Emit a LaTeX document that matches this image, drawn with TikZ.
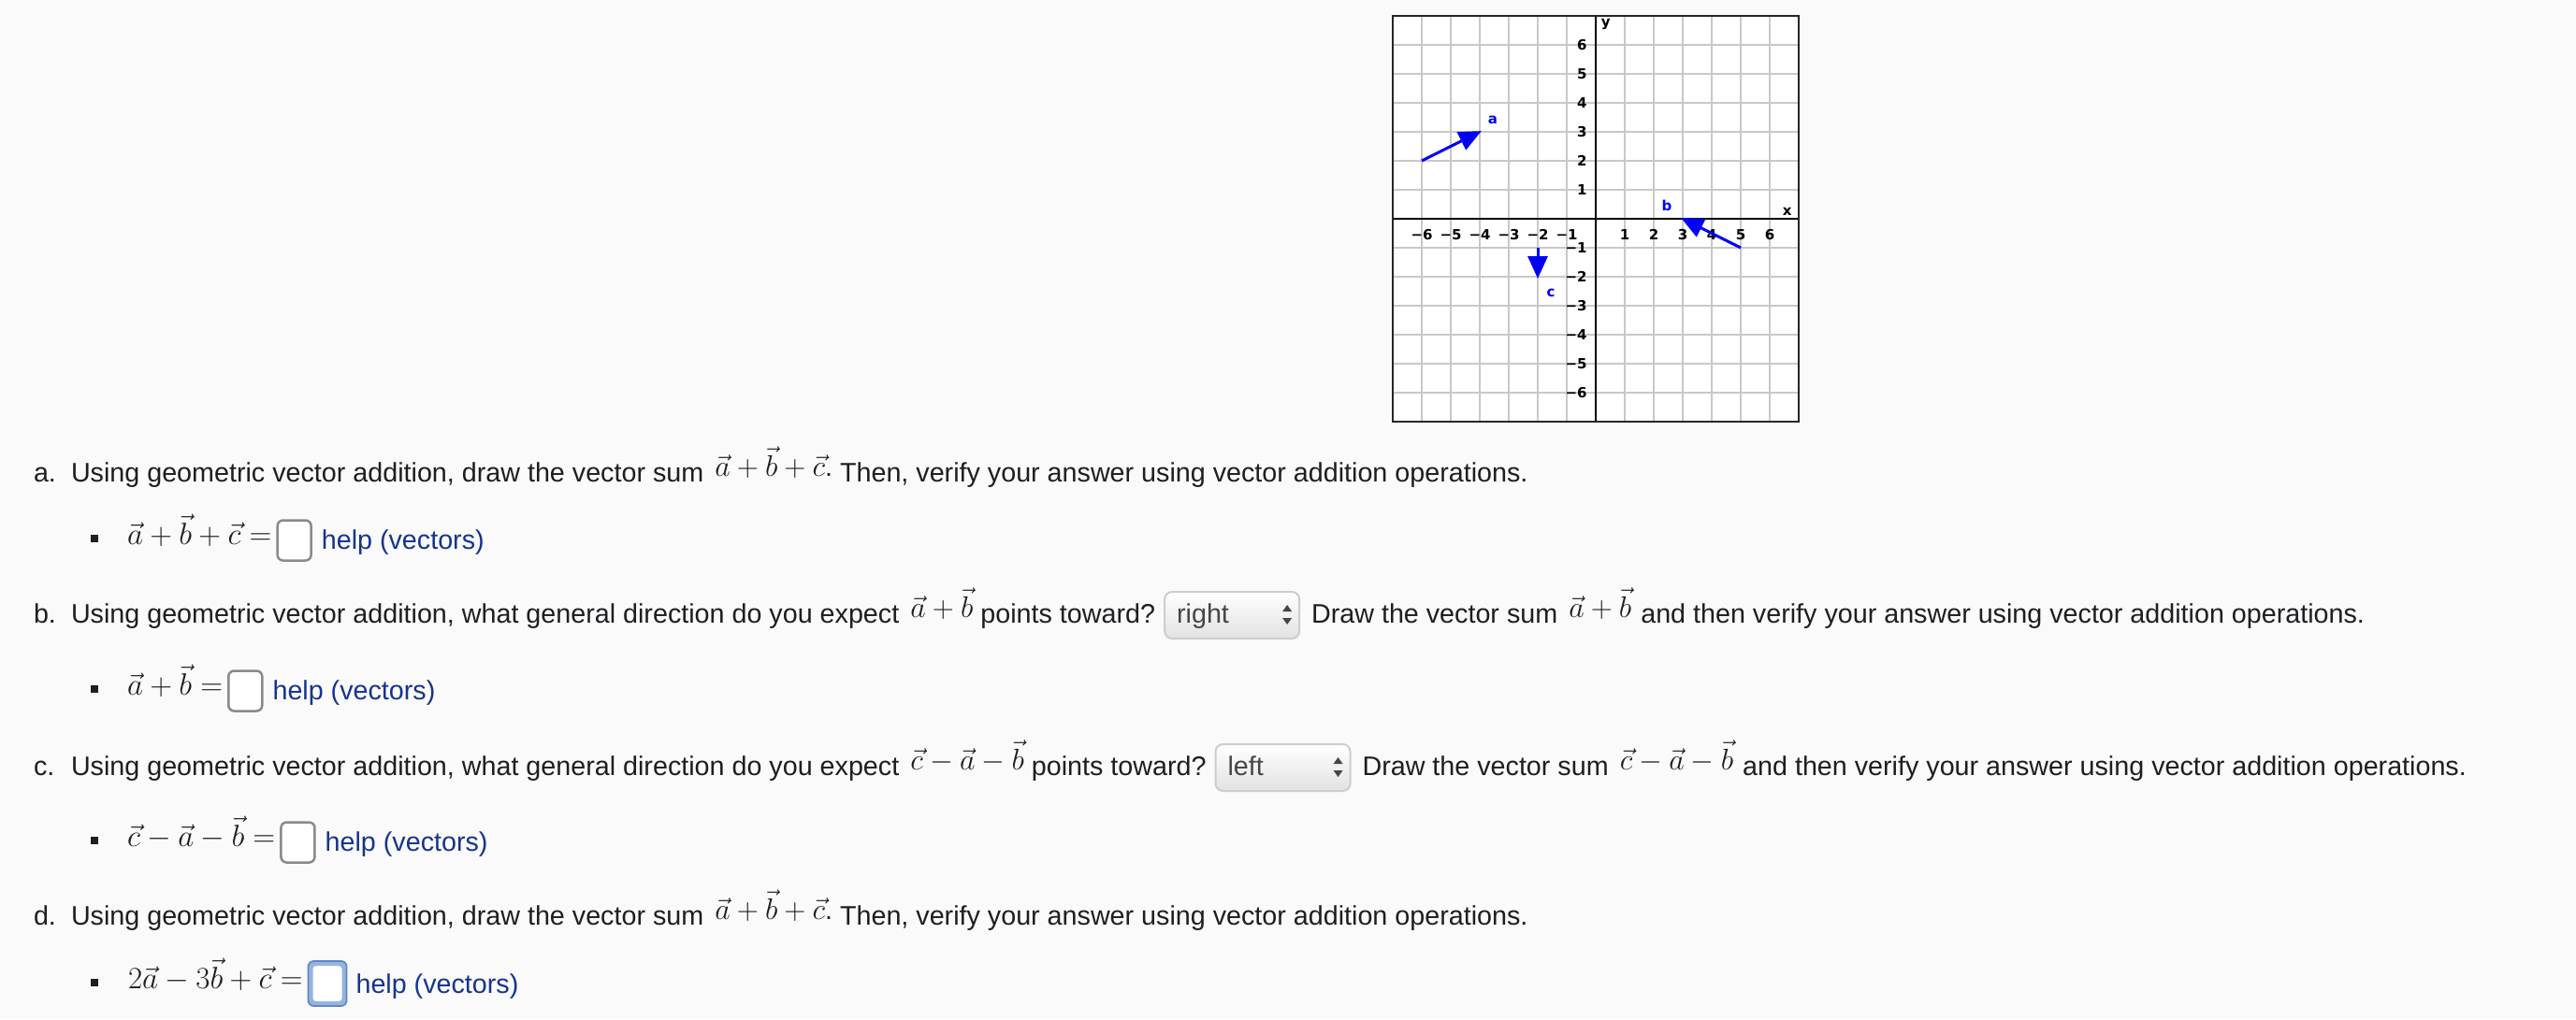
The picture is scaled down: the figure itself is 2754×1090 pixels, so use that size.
\RequirePackage{fix-cm}
\documentclass[tikz,border=0pt]{standalone}
\usepackage[no-math]{fontspec}
\setmainfont{Liberation Sans}
\newfontfamily\gfont{DejaVu Sans}
\usetikzlibrary{arrows.meta}
\definecolor{bgc}{RGB}{250,250,250}
\definecolor{txt}{RGB}{30,30,34}
\definecolor{helpc}{RGB}{22,52,140}
\definecolor{gridc}{RGB}{200,200,200}
\definecolor{vecc}{RGB}{0,0,245}
\definecolor{boxc}{RGB}{138,138,138}
\definecolor{ddline}{RGB}{205,205,205}
\definecolor{ddfill}{RGB}{226,226,226}
\definecolor{ddtxt}{RGB}{70,70,70}
\definecolor{glowout}{RGB}{150,180,222}
\definecolor{glowin}{RGB}{95,135,195}
\newcommand\mth[1]{{\fontsize{33}{38}\selectfont$#1$}}
\newcommand\mti[1]{{\fontsize{32}{38}\selectfont$#1$}}
\tikzset{
 tx/.style={anchor=base west, inner sep=0pt, outer sep=0pt, text=txt, font=\fontsize{28.7}{35}\selectfont},
 hp/.style={tx, text=helpc},
 ansbox/.style={draw=boxc, line width=2.5pt, fill=white, rounded corners=6pt, inner sep=0pt, minimum width=36pt, minimum height=43pt, anchor=west},
 bul/.style={fill=txt, inner sep=0pt, minimum size=8pt},
 dd/.style={draw=ddline, line width=2pt, rounded corners=8pt, top color=white, bottom color=ddfill, minimum width=144pt, minimum height=50pt, inner sep=0pt, anchor=west},
 ddarr/.style={fill=ddtxt},
 glab/.style={font=\gfont\bfseries\fontsize{15}{15}\selectfont, inner sep=0pt, text=black},
 vlab/.style={glab, text=vecc},
 vecline/.style={vecc, line width=3pt, -{Triangle[length=24pt,width=21pt]}},
 gl/.style={gridc, line width=1.5pt},
}
\begin{document}
\begin{tikzpicture}[x=1pt,y=-1pt]
\fill[bgc] (0,0) rectangle (2754,1090);
\useasboundingbox (0,0) rectangle (2754,1090);

% ---------- graph ----------
\begin{scope}[shift={(1706,234)}, x=31pt, y=31pt]
  \fill[white] (-7,-7) rectangle (7,7);
  \foreach \i in {-6,...,6} {
    \draw[gl] (\i,-7) -- (\i,7);
    \draw[gl] (-7,\i) -- (7,\i);
  }
  \draw[black, line width=1.5pt] (-7,0) -- (7,0);
  \draw[black, line width=1.5pt] (0,-7) -- (0,7);
  \draw[black!85, line width=2pt] (-7,-7) rectangle (7,7);
  \foreach \i in {1,...,6} {
    \node[glab] (xp\i) at (\i,-0.55) {\i};
    \node[glab] (xm\i) at (-\i,-0.55) {−\i};
    \node[glab, anchor=east] (yp\i) at (-0.3,\i) {\i};
    \node[glab, anchor=east] (ym\i) at (-0.3,-\i) {−\i};
  }
  \node[glab] (ylab) at (0.35,6.7) {y};
  \node[glab] (xlab) at (6.6,0.25) {x};
  \coordinate (a0) at (-6,2); \coordinate (a1) at (-4,3);
  \coordinate (b0) at (5,-1); \coordinate (b1) at (3,0);
  \coordinate (c0) at (-2,-1); \coordinate (c1) at (-2,-2);
  \draw[vecline, shorten >=-2pt] (a0) -- (a1);
  \draw[vecline, shorten >=-2pt] (b0) -- (b1);
  \draw[vecline, shorten >=-2pt] (c0) -- (c1);
  \node[vlab] (la) at (-3.55,3.4) {a};
  \node[vlab] (lb) at (2.45,0.45) {b};
  \node[vlab] (lc) at (-1.55,-2.55) {c};
\end{scope}

% ---------- part a ----------
\node[tx] (pa) at (36,515) {a.};
\node[tx] (ta1) at (76,515) {Using geometric vector addition, draw the vector sum};
\node[tx] (ta2) at ([xshift=12pt,yshift=6pt]ta1.base east) {\mti{\vec a+\vec b+\vec c}.};
\node[tx] (ta3) at ([xshift=0pt]ta2.base east |- ta1.base) {\ Then, verify your answer using vector addition operations.};
\node[bul] (bua) at (101,576) {};
\node[tx] (ma) at (136,582) {\mth{\vec a+\vec b+\vec c=}};
\node[ansbox] (boxa) at ([xshift=5pt,yshift=4pt]ma.base east) {};
\node[hp] (ha) at ([xshift=10pt,yshift=-9pt]boxa.east) {help (vectors)};

% ---------- part b ----------
\node[tx] (pb) at (36,666) {b.};
\node[tx] (tb1) at (76,666) {Using geometric vector addition, what general direction do you expect};
\node[tx] (tb2) at ([xshift=12pt,yshift=6pt]tb1.base east) {\mti{\vec a+\vec b}};
\node[tx] (tb3) at ([xshift=8pt]tb2.base east |- tb1.base) {points toward?};
\node[dd] (ddb) at ([xshift=9pt,yshift=8pt]tb3.base east) {};
\node[tx, text=ddtxt] (ddbt) at ([xshift=14pt]ddb.west |- tb3.base) {right};
\fill[ddarr, shift={(ddb.east)}] (-19,-4) -- (-9,-4) -- (-14,-11) -- cycle;
\fill[ddarr, shift={(ddb.east)}] (-19,3) -- (-9,3) -- (-14,10) -- cycle;
\node[tx] (tb4) at ([xshift=12pt]ddb.east |- tb3.base) {Draw the vector sum};
\node[tx] (tb5) at ([xshift=12pt,yshift=6pt]tb4.base east) {\mti{\vec a+\vec b}};
\node[tx] (tb6) at ([xshift=10pt]tb5.base east |- tb4.base) {and then verify your answer using vector addition operations.};
\node[bul] (bub) at (101,737) {};
\node[tx] (mb) at (136,743) {\mth{\vec a+\vec b=}};
\node[ansbox] (boxb) at ([xshift=5pt,yshift=4pt]mb.base east) {};
\node[hp] (hb) at ([xshift=10pt,yshift=-9pt]boxb.east) {help (vectors)};

% ---------- part c ----------
\node[tx] (pc) at (36,829) {c.};
\node[tx] (tc1) at (76,829) {Using geometric vector addition, what general direction do you expect};
\node[tx] (tc2) at ([xshift=12pt,yshift=6pt]tc1.base east) {\mti{\vec c-\vec a-\vec b}};
\node[tx] (tc3) at ([xshift=8pt]tc2.base east |- tc1.base) {points toward?};
\node[dd] (ddc) at ([xshift=9pt,yshift=8pt]tc3.base east) {};
\node[tx, text=ddtxt] (ddct) at ([xshift=14pt]ddc.west |- tc3.base) {left};
\fill[ddarr, shift={(ddc.east)}] (-19,-4) -- (-9,-4) -- (-14,-11) -- cycle;
\fill[ddarr, shift={(ddc.east)}] (-19,3) -- (-9,3) -- (-14,10) -- cycle;
\node[tx] (tc4) at ([xshift=12pt]ddc.east |- tc3.base) {Draw the vector sum};
\node[tx] (tc5) at ([xshift=12pt,yshift=6pt]tc4.base east) {\mti{\vec c-\vec a-\vec b}};
\node[tx] (tc6) at ([xshift=10pt]tc5.base east |- tc4.base) {and then verify your answer using vector addition operations.};
\node[bul] (buc) at (101,899) {};
\node[tx] (mc) at (136,905) {\mth{\vec c-\vec a-\vec b=}};
\node[ansbox] (boxc) at ([xshift=5pt,yshift=4pt]mc.base east) {};
\node[hp] (hc) at ([xshift=10pt,yshift=-9pt]boxc.east) {help (vectors)};

% ---------- part d ----------
\node[tx] (pd) at (36,989) {d.};
\node[tx] (td1) at (76,989) {Using geometric vector addition, draw the vector sum};
\node[tx] (td2) at ([xshift=12pt,yshift=6pt]td1.base east) {\mti{\vec a+\vec b+\vec c}.};
\node[tx] (td3) at ([xshift=0pt]td2.base east |- td1.base) {\ Then, verify your answer using vector addition operations.};
\node[bul] (bud) at (101,1051) {};
\node[tx] (md) at (137,1057) {\mth{2\vec a-3\vec b+\vec c=}};
\node[ansbox, draw=glowout, line width=5pt] (boxd) at ([xshift=6pt,yshift=5pt]md.base east) {};
\draw[glowin, line width=1.8pt, rounded corners=6pt] (boxd.south west) rectangle (boxd.north east);
\node[hp] (hd) at ([xshift=10pt,yshift=-10pt]boxd.east) {help (vectors)};
\end{tikzpicture}
\end{document}
